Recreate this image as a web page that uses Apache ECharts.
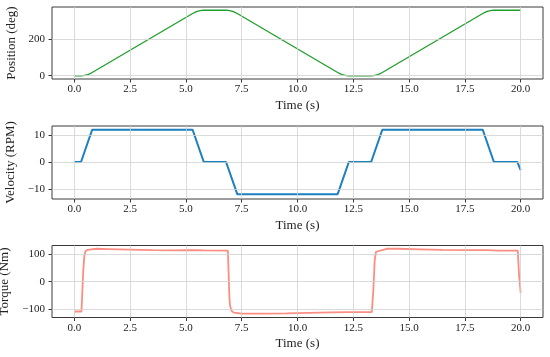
<!DOCTYPE html>
<html>
<head>
<meta charset="utf-8">
<script src="https://cdn.jsdelivr.net/npm/echarts@6/dist/echarts.min.js"></script>
<style>
html,body{margin:0;padding:0;background:#fff;}
#chart{width:550px;height:357px;}
</style>
</head>
<body>
<div id="chart"></div>
<script>
// ---- data ----
var timeTicks = [0, 2.5, 5, 7.5, 10, 12.5, 15, 17.5, 20];
var positionTicks = [0, 200];
var velocityTicks = [-10, 0, 10];
var torqueTicks = [-100, 0, 100];

var positionData = [
  [0,0],[0.3,0],[0.4,0.7],[0.5,2.9],[0.6,6.5],[0.7,11.5],[0.8,18],
  [5.3,342],[5.4,348.5],[5.5,353.5],[5.6,357],[5.7,359.3],[5.8,360],
  [6.8,360],[6.9,359.3],[7.0,357],[7.1,353.5],[7.2,348.5],[7.3,342],
  [11.8,18],[11.9,11.5],[12.0,6.5],[12.1,2.9],[12.2,0.7],[12.3,0],
  [13.3,0],[13.4,0.7],[13.5,2.9],[13.6,6.5],[13.7,11.5],[13.8,18],
  [18.3,342],[18.4,348.5],[18.5,353.5],[18.6,357],[18.7,359.3],[18.8,360],
  [20.0,360]
];

var velocityData = [
  [0,0],[0.3,0],[0.8,12],[5.3,12],[5.8,0],[6.8,0],[7.3,-12],[11.8,-12],
  [12.3,0],[13.3,0],[13.8,12],[18.3,12],[18.8,0],[19.85,0],[20.0,-3]
];

var torqueData = [
  [0,-110],[0.32,-110],[0.4,40],[0.45,95],[0.5,112],[0.6,117],[1.0,121],
  [1.5,120],[2.5,118],[3.5,116],[4.5,115],[5.0,115.5],[5.5,116],[5.8,115],
  [6.88,114],[6.95,-60],[6.98,-90],[7.05,-108],[7.15,-114],[7.5,-118],
  [8.5,-118],[9.5,-117],[10.5,-115],[11.5,-113],[12.3,-112],[13.33,-112],
  [13.4,-30],[13.46,80],[13.52,110],[13.6,116],[14.0,121],[14.5,121],
  [15.5,119],[16.5,117],[17.5,116],[18.5,116],[19.0,114],[19.87,114],
  [19.93,20],[20.0,-41]
];

var FONT = '"Liberation Serif", "DejaVu Serif", serif';
var TXT = '#222';
var SPINE = '#3a3a3a';
var GRIDC = '#d2d2d2';

function minusFmt(v){ return v < 0 ? '\u2212' + Math.abs(v) : String(v); }

var grids = [
  {left:52, right:7, top:7, height:72},
  {left:52, right:7, top:126, height:73},
  {left:52, right:7, top:245.5, height:72}
];
var yDefs = [
  {name:'Position (deg)', min:-18, max:378, ticks:positionTicks},
  {name:'Velocity (RPM)', min:-13.8, max:13.4, ticks:velocityTicks},
  {name:'Torque (Nm)', min:-132, max:133, ticks:torqueTicks}
];
var seriesDefs = [
  {data:positionData, color:'#1f9e2a', width:1.3, opacity:1},
  {data:velocityData, color:'#1b7fc0', width:2, opacity:1},
  {data:torqueData, color:'#fa7a6c', width:1.8, opacity:0.85}
];

var xAxes = [], yAxes = [], series = [];
grids.forEach(function(g, i){
  g.show = true; g.borderColor = SPINE; g.borderWidth = 1; g.backgroundColor = 'transparent';
  g.containLabel = false; g.outerBoundsMode = 'none';
  xAxes.push({
    type:'value', gridIndex:i, min:-1, max:21,
    name:'Time (s)', nameLocation:'middle', nameGap:20,
    nameTextStyle:{fontFamily:FONT, fontSize:13, color:TXT},
    axisLine:{show:false, onZero:false},
    axisTick:{show:true, inside:false, length:3.5, customValues:timeTicks, lineStyle:{color:SPINE, width:1}},
    axisLabel:{customValues:timeTicks, margin:5, fontFamily:FONT, fontSize:11, color:TXT,
      formatter:function(v){ return v.toFixed(1); }},
    splitLine:{show:false}
  });
  var yd = yDefs[i];
  yAxes.push({
    type:'value', gridIndex:i, min:yd.min, max:yd.max,
    name:yd.name, nameLocation:'middle', nameGap:28,
    nameTextStyle:{fontFamily:FONT, fontSize:13, color:TXT},
    axisLine:{show:false, onZero:false},
    axisTick:{show:true, inside:false, length:3.5, customValues:yd.ticks, lineStyle:{color:SPINE, width:1}},
    axisLabel:{customValues:yd.ticks, margin:7, fontFamily:FONT, fontSize:11, color:TXT, formatter:minusFmt},
    splitLine:{show:false}
  });
  var ml = timeTicks.map(function(v){ return {xAxis:v}; })
    .concat(yd.ticks.map(function(v){ return {yAxis:v}; }));
  series.push({
    type:'line', xAxisIndex:i, yAxisIndex:i, data:[[0, 0]], symbol:'none',
    lineStyle:{opacity:0}, silent:true, z:1,
    markLine:{silent:true, symbol:['none','none'], label:{show:false}, animation:false,
      lineStyle:{color:GRIDC, width:0.8, type:'solid'}, emphasis:{disabled:true}, data:ml}
  });
  var sd = seriesDefs[i];
  series.push({
    type:'line', xAxisIndex:i, yAxisIndex:i, data:sd.data, symbol:'none', showSymbol:false,
    z:3, lineStyle:{color:sd.color, width:sd.width, opacity:sd.opacity}, silent:true
  });
});

var chart = echarts.init(document.getElementById('chart'), null, {renderer:'canvas'});
chart.setOption({
  animation:false,
  backgroundColor:'#fff',
  grid:grids,
  xAxis:xAxes,
  yAxis:yAxes,
  series:series
});
</script>
</body>
</html>
